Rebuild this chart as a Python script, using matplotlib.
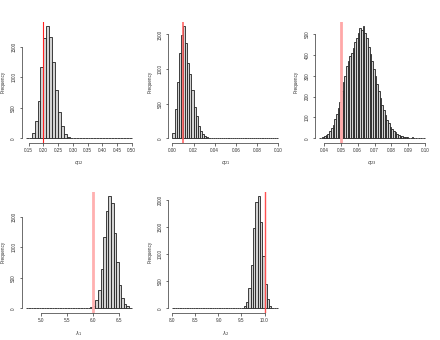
import numpy as np
import matplotlib
matplotlib.use("Agg")
import matplotlib.pyplot as plt

plt.rcParams['font.family'] = ['Liberation Sans', 'DejaVu Sans']

# ---------------- data ----------------
# Panel 1: q12, bins of 0.01 from 0.14 to 0.50
q12_start, q12_width = 0.14, 0.01
q12_counts = [2, 10, 87, 283, 610, 1160, 1635, 1837, 1651, 1243, 790, 425, 202, 71,
              27, 10, 5, 3, 2, 1, 1, 1, 0, 0, 0, 1, 0, 0, 0, 0, 0, 0, 0, 0, 0, 1]
q12_true = 0.20

# Panel 2: q21, bins of 0.002 from 0.00 to 0.10
q21_start, q21_width = 0.0, 0.002
q21_counts = [72, 418, 818, 1227, 1491, 1621, 1371, 1082, 923, 697, 457, 322, 183,
              111, 67, 38, 20, 10, 5, 3, 2, 1, 1, 0, 1, 0, 0, 0, 0, 0, 0, 0, 0, 0,
              0, 0, 0, 0, 0, 0, 0, 0, 0, 0, 0, 0, 0, 0, 0, 1]
q21_true = 0.01

# Panel 3: q23, bins of 0.001 from 0.037 to 0.100
q23_start, q23_width = 0.037, 0.001
q23_counts = [1, 3, 5, 9, 14, 22, 33, 48, 66, 92, 118, 145, 172, 225, 270, 300, 345,
              370, 395, 410, 432, 460, 480, 505, 530, 520, 538, 505, 480, 440, 405,
              370, 330, 300, 262, 225, 195, 160, 135, 110, 90, 72, 55, 45, 35, 28,
              22, 16, 12, 9, 7, 5, 4, 3, 2, 5, 2, 1, 1, 1, 0, 1, 1]
q23_true = 0.05

# Panel 4: lambda1, bins of 0.05 from 4.70 to 6.55
l1_start, l1_width = 4.70, 0.05
l1_counts = [1, 0, 0, 0, 0, 0, 0, 0, 1, 0, 0, 0, 0, 0, 0, 0, 0, 0, 1, 0, 1, 1, 2,
             3, 7, 20, 44, 136, 305, 650, 1160, 1590, 1837, 1717, 1240, 750, 380,
             170, 76, 33, 10]
l1_true = 6.0

# Panel 5: lambda2, bins of 0.05 from 8.00 to 10.30
l2_start, l2_width = 8.0, 0.05
l2_counts = [1, 0, 0, 0, 0, 0, 0, 0, 0, 0, 0, 0, 0, 0, 0, 0, 0, 0, 0, 0, 1, 0, 0,
             0, 0, 0, 0, 1, 1, 2, 8, 43, 122, 367, 790, 1470, 1950, 2065, 1590, 970,
             447, 177, 49, 10, 2, 1]
l2_true = 10.0

xlabels = ["$q_{12}$", "$q_{21}$", "$q_{23}$", r"$\lambda_1$", r"$\lambda_2$"]
xticks = [[0.15, 0.20, 0.25, 0.30, 0.35, 0.40, 0.45, 0.50],
          [0.00, 0.02, 0.04, 0.06, 0.08, 0.10],
          [0.04, 0.05, 0.06, 0.07, 0.08, 0.09, 0.10],
          [5.0, 5.5, 6.0, 6.5],
          [8.0, 8.5, 9.0, 9.5, 10.0]]
xticklabels = [["0.15", "0.20", "0.25", "0.30", "0.35", "0.40", "0.45", "0.50"],
               ["0.00", "0.02", "0.04", "0.06", "0.08", "0.10"],
               ["0.04", "0.05", "0.06", "0.07", "0.08", "0.09", "0.10"],
               ["5.0", "5.5", "6.0", "6.5"],
               ["8.0", "8.5", "9.0", "9.5", "10.0"]]
yticks = [[0, 500, 1000, 1500],
          [0, 500, 1000, 1500],
          [0, 100, 200, 300, 400, 500],
          [0, 500, 1000, 1500],
          [0, 500, 1000, 1500, 2000]]

panels = [
    (q12_start, q12_width, q12_counts, q12_true),
    (q21_start, q21_width, q21_counts, q21_true),
    (q23_start, q23_width, q23_counts, q23_true),
    (l1_start, l1_width, l1_counts, l1_true),
    (l2_start, l2_width, l2_counts, l2_true),
]
red_styles = [("#ff2020", 0.8), ("#ff5a5a", 1.1), ("#ffa8a8", 2.0),
              ("#ffb0b0", 2.0), ("#ff5050", 1.0)]

W, H = 440, 340
fig = plt.figure(figsize=(W / 100, H / 100), dpi=100)

FS = 3.3
edge = "#222222"
fill = "#d3d3d3"

for i, (start, width, counts, true) in enumerate(panels):
    row, col = divmod(i, 3)
    left_px = 21.5 + col * 146.67
    top_px = 21.6 + row * 170
    ax = fig.add_axes([left_px / W, 1 - (top_px + 121.2) / H, 114.4 / W, 121.2 / H])
    counts = np.asarray(counts, dtype=float)
    edges = start + width * np.arange(len(counts) + 1)
    centers = 0.5 * (edges[:-1] + edges[1:])
    ax.hist(centers, bins=edges, weights=counts, color=fill, edgecolor=edge,
            linewidth=0.6)
    lo, hi = edges[0], edges[-1]
    ext = 0.04 * (hi - lo)
    ax.set_xlim(lo - ext, hi + ext)
    ymax = counts.max()
    ax.set_ylim(-0.04 * ymax, 1.04 * ymax)
    c, lw = red_styles[i]
    ax.axvline(true, color=c, lw=lw, zorder=5)

    for s in ("top", "right"):
        ax.spines[s].set_visible(False)
    for s in ("left", "bottom"):
        ax.spines[s].set_linewidth(0.5)
        ax.spines[s].set_color("#333333")
    ax.spines["bottom"].set_bounds(xticks[i][0], xticks[i][-1])
    ax.spines["left"].set_bounds(yticks[i][0], yticks[i][-1])
    ax.set_xticks(xticks[i])
    ax.set_xticklabels(xticklabels[i])
    ax.set_yticks(yticks[i])
    ax.set_yticklabels([str(v) for v in yticks[i]], rotation=90, va="center")
    ax.tick_params(axis="both", length=1.8, width=0.5, color="#333333",
                   labelsize=FS, pad=2.0, labelcolor="#333333")
    ax.set_xlabel(xlabels[i], fontsize=FS + 0.4, labelpad=4, color="#333333")
    ax.set_ylabel("Frequency", fontsize=FS, labelpad=4, color="#333333")
    ax.patch.set_visible(False)

fig.savefig("out.png", dpi=100)
